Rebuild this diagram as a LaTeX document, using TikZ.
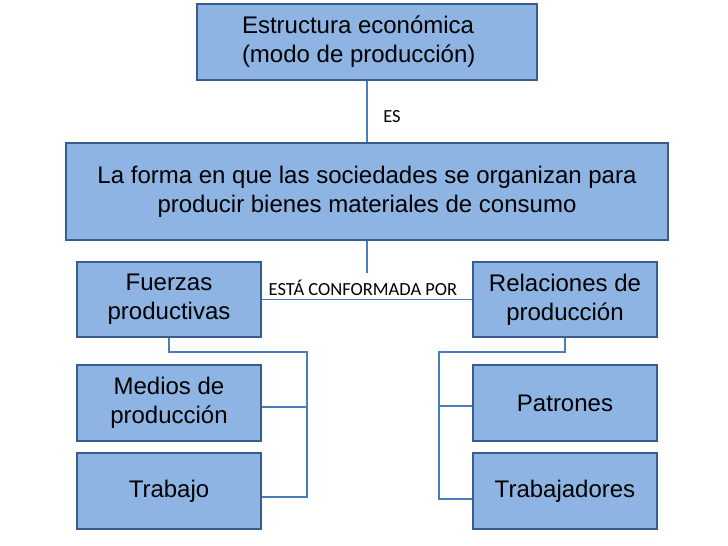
\documentclass[tikz,border=0pt]{standalone}
\usepackage{fontspec}
\setmainfont{Liberation Sans}
\newfontfamily\calibri{Carlito}
\usepackage{tikz}
\usetikzlibrary{positioning,calc}
\definecolor{boxfill}{RGB}{141,180,226}
\definecolor{boxline}{RGB}{56,93,138}
\definecolor{connline}{RGB}{74,126,187}

\begin{document}
\begin{tikzpicture}[x=1pt,y=1pt,font=\fontsize{24}{29}\selectfont,
  box/.style={draw=boxline,fill=boxfill,line width=2pt,inner sep=0pt,align=center},
  conn/.style={draw=connline,line width=1.2pt},
  lbl/.style={font=\calibri\fontsize{18.5}{20}\selectfont,inner sep=1pt}]
  \useasboundingbox (0,0) rectangle (728,-546);
  % ---- top ----
  \node[box,minimum width=340pt,minimum height=76pt,text width=250pt,align=flush left]
     (econ) at (367,-42) {Estructura económica\\(modo de producción)};
  \node[box,minimum width=602pt,minimum height=97pt,below=61pt of econ] (forma)
     {La forma en que las sociedades se organizan para\\producir bienes materiales de consumo};
  \draw[conn] (econ.south) -- (econ.south|-forma.north);
  \node[lbl] (es) at (392,-117) {ES};
  % ---- second row ----
  \node[box,minimum width=184pt,minimum height=75pt] (fuerzas) at (169,-299.5)
     {Fuerzas\\productivas};
  \node[box,minimum width=184pt,minimum height=75pt] (relac) at (565,-299.5)
     {Relaciones de\\producción};
  \coordinate (split) at (forma.south|-0,-273);
  \draw[conn] (forma.south) -- (split);
  \draw[conn] (fuerzas.east) -- (relac.west);
  \node[lbl] (esta) at (363,-288) {ESTÁ CONFORMADA POR};
  % ---- left branch ----
  \node[box,minimum width=184pt,minimum height=76pt,below=26pt of fuerzas] (medios)
     {Medios de\\producción};
  \node[box,minimum width=184pt,minimum height=76pt,below=10pt of medios] (trabajo)
     {Trabajo};
  \coordinate (lbus) at (307,-352);
  \draw[conn] (fuerzas.south) |- (lbus) |- ([yshift=-6pt]trabajo.east);
  \draw[conn] ([yshift=-4pt]medios.east) -- ([yshift=-4pt]medios.east-|lbus);
  % ---- right branch ----
  \node[box,minimum width=184pt,minimum height=76pt,below=26pt of relac] (patrones)
     {Patrones};
  \node[box,minimum width=184pt,minimum height=76pt,below=10pt of patrones] (trabaj)
     {Trabajadores};
  \coordinate (rbus) at (439,-352);
  \draw[conn] (relac.south) |- (rbus) |- ([yshift=-8pt]trabaj.west);
  \draw[conn] ([yshift=-3pt]patrones.west) -- ([yshift=-3pt]patrones.west-|rbus);
\end{tikzpicture}
\end{document}
